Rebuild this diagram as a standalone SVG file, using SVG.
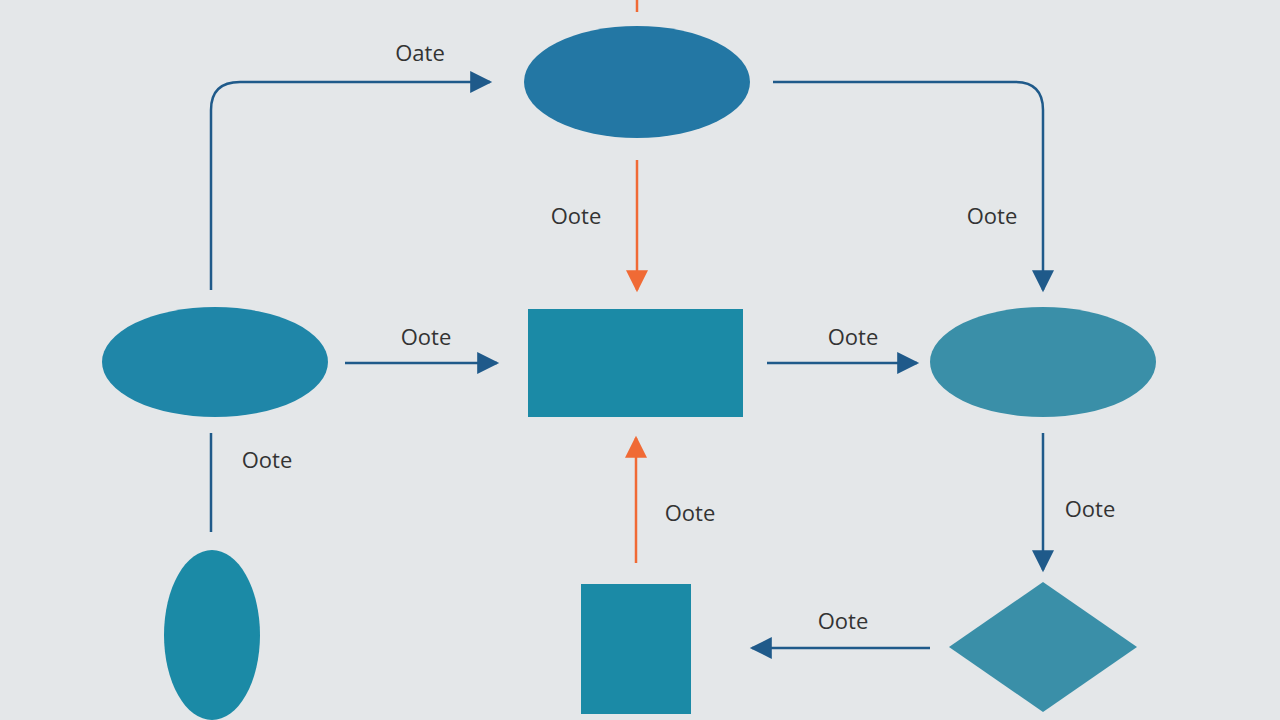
<svg xmlns="http://www.w3.org/2000/svg" width="1280" height="720" viewBox="0 0 1280 720">
<style>
.l{fill:none;stroke:#1f5a8a;stroke-width:2.5}
.o{fill:none;stroke:#f06a35;stroke-width:2.5}
text{font-family:"Open Sans","Liberation Sans",sans-serif;font-size:22px;fill:#333;text-anchor:middle}
</style>
<defs>
<marker id="a" viewBox="0 0 10 10" refX="9" refY="5" markerWidth="10" markerHeight="10" markerUnits="userSpaceOnUse" orient="auto"><path d="M0,0L10,5L0,10z" fill="#1f5a8a"/></marker>
<marker id="ab" viewBox="0 0 10 10" refX="9" refY="5" markerWidth="24" markerHeight="22" markerUnits="userSpaceOnUse" orient="auto"><path d="M0,0L10,5L0,10z" fill="#1f5a8a"/></marker>
<marker id="ao" viewBox="0 0 10 10" refX="9" refY="5" markerWidth="24" markerHeight="22" markerUnits="userSpaceOnUse" orient="auto"><path d="M0,0L10,5L0,10z" fill="#f06a35"/></marker>
</defs>
<rect width="1280" height="720" fill="#e4e7e9"/>
<g id="connectors">
<path class="o" d="M637,0V12"/>
<path class="l" d="M211,290V110Q211,82 240,82H490" marker-end="url(#ab)"/>
<path class="l" d="M773,82H1015Q1043,82 1043,110V290" marker-end="url(#ab)"/>
<path class="o" d="M637,160V290" marker-end="url(#ao)"/>
<path class="l" d="M345,363H497" marker-end="url(#ab)"/>
<path class="l" d="M767,363H917" marker-end="url(#ab)"/>
<path class="l" d="M211,433V532"/>
<path class="o" d="M636,563V438" marker-end="url(#ao)"/>
<path class="l" d="M1043,433V570" marker-end="url(#ab)"/>
<path class="l" d="M930,648H752" marker-end="url(#ab)"/>
<text x="420" y="61">Oate</text>
<text x="576" y="224">Oote</text>
<text x="992" y="224">Oote</text>
<text x="426" y="345">Oote</text>
<text x="853" y="345">Oote</text>
<text x="267" y="468">Oote</text>
<text x="690" y="521">Oote</text>
<text x="1090" y="517">Oote</text>
<text x="843" y="629">Oote</text>
</g>
<g id="n1"><ellipse cx="637" cy="82" rx="113" ry="56" fill="#2377a4"/></g>
<g id="n2"><ellipse cx="215" cy="362" rx="113" ry="55" fill="#1f86a8"/></g>
<g id="n3"><rect x="528" y="309" width="215" height="108" fill="#1b8aa6"/></g>
<g id="n4"><ellipse cx="1043" cy="362" rx="113" ry="55" fill="#3a8fa8"/></g>
<g id="n5"><ellipse cx="212" cy="635" rx="48" ry="85" fill="#1b8aa6"/></g>
<g id="n6"><rect x="581" y="584" width="110" height="130" fill="#1b8aa6"/></g>
<g id="n7"><polygon points="1043,582 1137,647 1043,712 949,647" fill="#3a8fa8"/></g>
</svg>
